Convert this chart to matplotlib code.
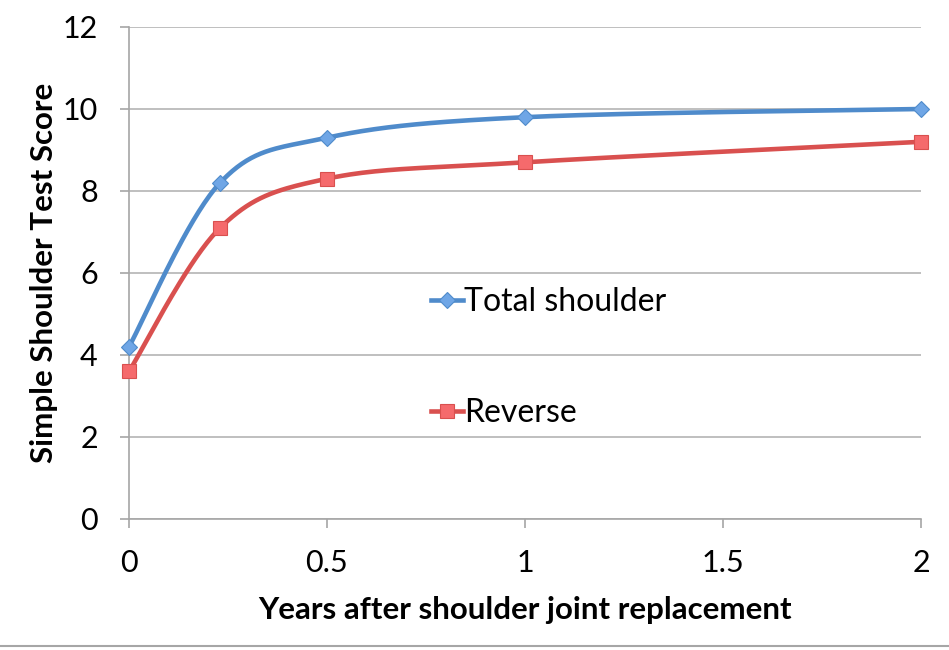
import numpy as np
import matplotlib
matplotlib.use("Agg")
import matplotlib.pyplot as plt
from matplotlib.lines import Line2D

years = [0, 0.23, 0.5, 1, 2]
total_shoulder = [4.2, 8.2, 9.3, 9.8, 10.0]
reverse = [3.6, 7.1, 8.3, 8.7, 9.2]
series_names = ["Total shoulder", "Reverse"]
x_ticks = [0, 0.5, 1, 1.5, 2]
x_tick_labels = ["0", "0.5", "1", "1.5", "2"]
y_ticks = [0, 2, 4, 6, 8, 10, 12]

plt.rcParams['font.family'] = ['Lato', 'DejaVu Sans']


def smooth(xs, ys, n=40):
    # Excel-style smoothed line: cubic Bezier with Catmull-Rom control points
    xs = np.asarray(xs, float)
    ys = np.asarray(ys, float)
    P = np.column_stack([xs, ys])
    m = len(P)
    out = []
    t = np.linspace(0, 1, n)
    for i in range(m - 1):
        p0 = P[i - 1] if i > 0 else P[i]
        p1 = P[i]
        p2 = P[i + 1]
        p3 = P[i + 2] if i + 2 < m else P[i + 1]
        c1 = p1 + (p2 - p0) / 6.0
        c2 = p2 - (p3 - p1) / 6.0
        seg = ((1 - t) ** 3)[:, None] * p1 + (3 * (1 - t) ** 2 * t)[:, None] * c1 \
            + (3 * (1 - t) * t ** 2)[:, None] * c2 + (t ** 3)[:, None] * p2
        out.append(seg if i == 0 else seg[1:])
    out = np.vstack(out)
    return out[:, 0], out[:, 1]


fig = plt.figure(figsize=(9.49, 6.5), dpi=100)
ax = fig.add_axes([129 / 949, 131 / 650, 792 / 949, 492 / 650])

blue_line = "#4F8BCB"
blue_mark = "#6FA6E6"
red_line = "#D9504F"
red_mark = "#F56A6C"

for vals, lc, mc, mk, ms in [(total_shoulder, blue_line, blue_mark, "D", 8),
                             (reverse, red_line, red_mark, "s", 9.5)]:
    sx, sy = smooth(years, vals)
    ax.plot(sx, sy, color=lc, lw=3.3, solid_capstyle="round", zorder=3,
            clip_on=False)
    ax.plot(years, vals, linestyle="none", marker=mk, markersize=ms,
            markerfacecolor=mc, markeredgecolor=lc, markeredgewidth=0.8,
            zorder=4, clip_on=False)

ax.set_xlim(0, 2)
ax.set_ylim(0, 12)
ax.set_xticks(x_ticks)
ax.set_xticklabels(x_tick_labels)
ax.set_yticks(y_ticks)

ax.grid(axis="y", color="#BFBFBF", linewidth=1.4)
ax.set_axisbelow(True)
for s in ["top", "right"]:
    ax.spines[s].set_visible(False)
for s in ["left", "bottom"]:
    ax.spines[s].set_color("#A6A6A6")
    ax.spines[s].set_linewidth(1.2)

ax.tick_params(axis="y", direction="out", length=6.5, width=1.2, color="#A6A6A6",
               pad=16, labelsize=22)
ax.tick_params(axis="x", direction="out", length=6.5, width=1.2, color="#A6A6A6",
               pad=15, labelsize=22)

ax.set_xlabel("Years after shoulder joint replacement", fontsize=22.5,
              fontweight="bold", labelpad=13.5)
ax.set_ylabel("Simple Shoulder Test Score", fontsize=22.5, fontweight="bold",
              labelpad=3)

handles = [
    Line2D([], [], color=blue_line, lw=3.3, marker="D", markersize=8,
           markerfacecolor=blue_mark, markeredgecolor=blue_line, markeredgewidth=0.8),
    Line2D([], [], color=red_line, lw=3.3, marker="s", markersize=9.5,
           markerfacecolor=red_mark, markeredgecolor=red_line, markeredgewidth=0.8),
]
ax.legend(handles, series_names, loc="center left", bbox_to_anchor=(0.381, 0.328),
          frameon=False, fontsize=23, handlelength=1.0, handletextpad=0.03,
          labelspacing=2.52, borderpad=0, borderaxespad=0)

fig.add_artist(Line2D([0, 1], [4 / 650, 4 / 650], transform=fig.transFigure,
                      color="#A6A6A6", lw=1.5))

fig.savefig("out.png", dpi=100)
